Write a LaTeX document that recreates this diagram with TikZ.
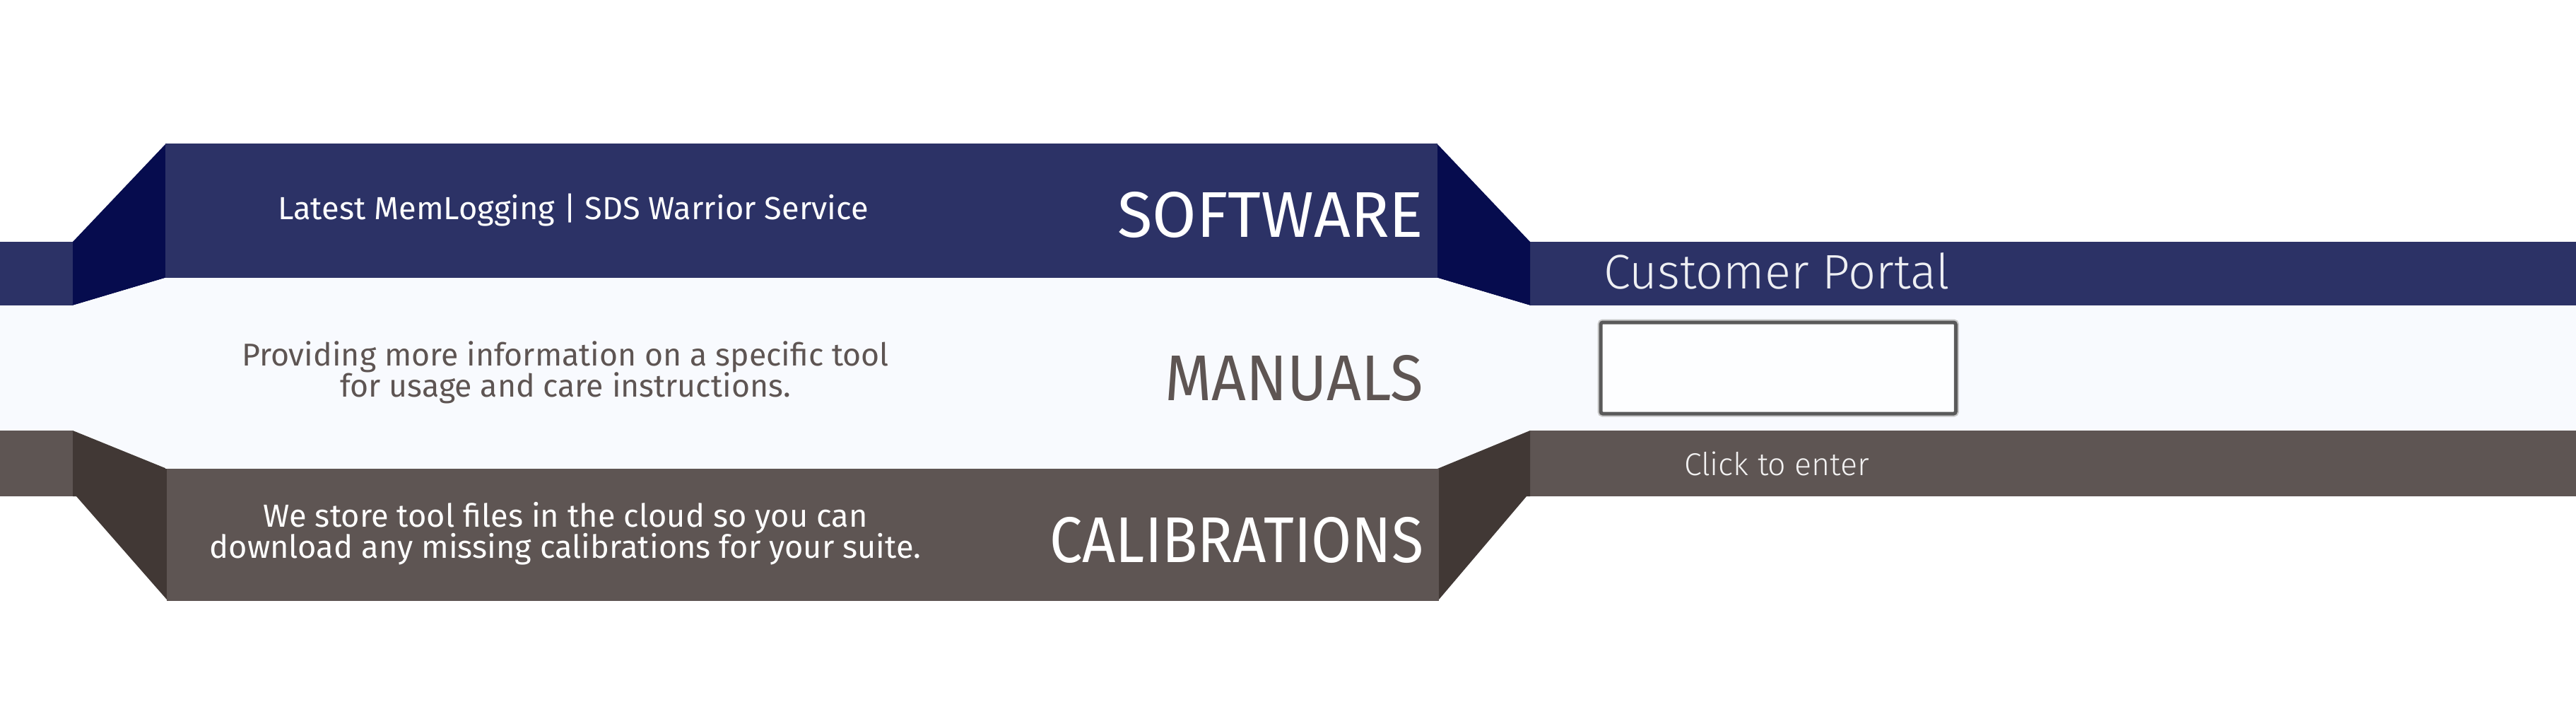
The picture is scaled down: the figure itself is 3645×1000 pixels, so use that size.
\documentclass[tikz,border=0pt]{standalone}
\usepackage{fontspec}
\setmainfont{Fira Sans}
\newfontfamily\lightface{Fira Sans Light}
\usepackage{tikz}
\usetikzlibrary{positioning}
\definecolor{navyband}{HTML}{2C3266}
\definecolor{navyside}{HTML}{060C4E}
\definecolor{lightband}{HTML}{F8FAFE}
\definecolor{brownband}{HTML}{5E5553}
\definecolor{brownside}{HTML}{413835}
\definecolor{portalline}{HTML}{5A5A5A}
\newcommand{\tightlines}{\lineskiplimit=-10pt\relax}

\begin{document}
\begin{tikzpicture}[
        x=0.01cm, y=-0.01cm,
        every node/.style={inner sep=0pt, align=center},
        title/.style={anchor=east, font=\fontsize{26pt}{26pt}\selectfont},
        blurb/.style={font=\fontsize{12.85pt}{12.5pt}\selectfont\tightlines, text=white},
        small/.style={font=\lightface\fontsize{12.7pt}{12.7pt}\selectfont, text=white!92!brownband}
    ]
        \useasboundingbox (0,0) rectangle (3645,1000);
        % Side strips
        \fill[navyband] (0,342) rectangle (103,432);
        \fill[lightband] (0,432) rectangle (103,609);
        \fill[brownband] (0,609) rectangle (103,702);
        \fill[navyband] (2165,342) rectangle (3645,432);
        \fill[lightband] (2165,432) rectangle (3645,609);
        \fill[brownband] (2165,609) rectangle (3645,702);
        % Facets
        \fill[navyside] (103,342) -- (234,204) -- (234,393) -- (103,432) -- cycle;
        \fill[navyside] (2034,204) -- (2165,342) -- (2165,432) -- (2034,393) -- cycle;
        \fill[lightband] (103,432) -- (234,393) -- (234,663) -- (103,609) -- cycle;
        \fill[lightband] (2034,393) -- (2165,432) -- (2165,609) -- (2034,663) -- cycle;
        \fill[brownside] (103,609) -- (236,663) -- (236,848) -- (108,702) -- (103,702) -- cycle;
        \fill[brownside] (2034,663) -- (2165,609) -- (2165,702) -- (2160,702) -- (2036,848) -- cycle;
        % Main bands
        \fill[navyband] (234,203) rectangle (2034,393);
        \fill[lightband] (234,393) rectangle (2034,663);
        \fill[brownband] (236,663) rectangle (2036,850);
        % Titles
        \node[title, text=white] (software) at (2015,304) {\scalebox{0.99}[1]{SOFTWARE}};
        \node[title, text=brownband] (manuals) at (2015,535) {\scalebox{0.934}[1]{MANUALS}};
        \node[title, text=white] (calibrations) at (2015,764) {\scalebox{0.905}[1]{CALIBRATIONS}};
        % Blurbs
        \node[blurb] (softblurb) at (811,297) {Latest MemLogging | SDS Warrior Service};
        \node[blurb, text=brownband, font=\fontsize{12.7pt}{12.5pt}\selectfont\tightlines] (manblurb) at (800,527) {Providing more information on a specific tool\\for usage and care instructions.};
        \node[blurb] (calblurb) at (800,755) {We store tool files in the cloud so you can\\download any missing calibrations for your suite.};
        % Portal
        \node[font=\lightface\fontsize{19.5pt}{19.5pt}\selectfont, text=white!92!navyband] (portal) at (2514,383) {Customer Portal};
        \node[draw=portalline, line width=0.05cm, preaction={draw=black!22, line width=0.09cm}, fill=white!70!lightband, rounded corners=0.03cm, minimum width=5.02cm, minimum height=1.29cm, anchor=north west] (enterbox) at (2262.5,453.5) {};
        \node[small] (enter) at (2514,656) {Click to enter};
    \end{tikzpicture}
\end{document}
